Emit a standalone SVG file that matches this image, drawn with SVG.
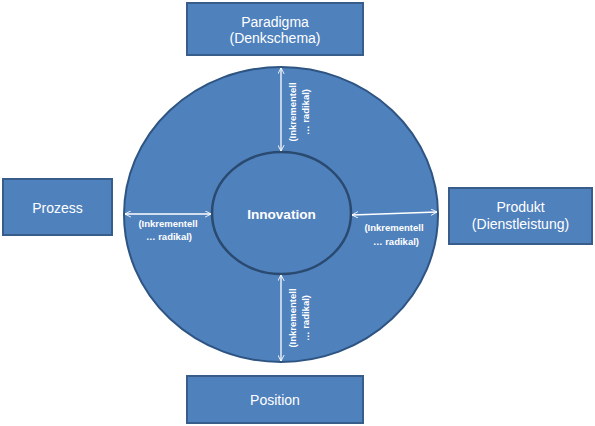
<svg xmlns="http://www.w3.org/2000/svg" width="595" height="426" viewBox="0 0 595 426">
<defs>
<style>
.box{fill:#4F81BD;stroke:#385D8A;stroke-width:2}
.bt{font-family:"Liberation Sans",Arial,sans-serif;font-size:14px;fill:#fff;text-anchor:middle}
.lt{font-family:"Liberation Sans",Arial,sans-serif;font-size:9.5px;font-weight:bold;fill:#fff;text-anchor:middle}
.ar{stroke:#fff;stroke-width:1.3;fill:none;marker-start:url(#ah);marker-end:url(#ah)}
</style>
<marker id="ah" viewBox="0 0 10 10" refX="9.5" refY="5" markerWidth="7" markerHeight="7" orient="auto-start-reverse" markerUnits="userSpaceOnUse">
<path d="M1,0.5 L9.5,5 L1,9.5" fill="none" stroke="#fff" stroke-width="1.3"/>
</marker>
</defs>
<rect width="595" height="426" fill="#fff"/>
<g id="outer">
<ellipse cx="281" cy="214.5" rx="157" ry="147.5" fill="#4F81BD" stroke="#2E5482" stroke-width="2"/>
</g>
<g id="innovation">
<ellipse cx="281.5" cy="213" rx="69.5" ry="61" fill="#4F81BD" stroke="#2A4A70" stroke-width="2.5"/>
<text class="bt" x="281.5" y="219" style="font-weight:bold;font-size:13.6px">Innovation</text>
</g>
<g id="paradigma">
<rect class="box" x="187" y="3" width="176" height="52"/>
<text class="bt" x="275" y="27">Paradigma</text>
<text class="bt" x="275" y="43">(Denkschema)</text>
</g>
<g id="prozess">
<rect class="box" x="3" y="179" width="109" height="56"/>
<text class="bt" x="57.5" y="213">Prozess</text>
</g>
<g id="produkt">
<rect class="box" x="449" y="188" width="143" height="56"/>
<text class="bt" x="520.5" y="212">Produkt</text>
<text class="bt" x="520.5" y="229">(Dienstleistung)</text>
</g>
<g id="position">
<rect class="box" x="187" y="376" width="176" height="47"/>
<text class="bt" x="275" y="405">Position</text>
</g>
<g id="connectors">
<line class="ar" x1="281" y1="68" x2="281" y2="151"/>
<line class="ar" x1="281" y1="275" x2="281" y2="361"/>
<line class="ar" x1="125" y1="214" x2="211" y2="214"/>
<line class="ar" x1="352" y1="215" x2="437" y2="212"/>
<g transform="translate(296,112) rotate(-90)">
<text class="lt" x="0" y="0">(Inkrementell</text>
<text class="lt" x="0" y="13">… radikal)</text>
</g>
<g transform="translate(296,318) rotate(-90)">
<text class="lt" x="0" y="0">(Inkrementell</text>
<text class="lt" x="0" y="13">… radikal)</text>
</g>
<text class="lt" x="168" y="227">(Inkrementell</text>
<text class="lt" x="169" y="240">… radikal)</text>
<text class="lt" x="394" y="231">(Inkrementell</text>
<text class="lt" x="396" y="245">… radikal)</text>
</g>
</svg>
